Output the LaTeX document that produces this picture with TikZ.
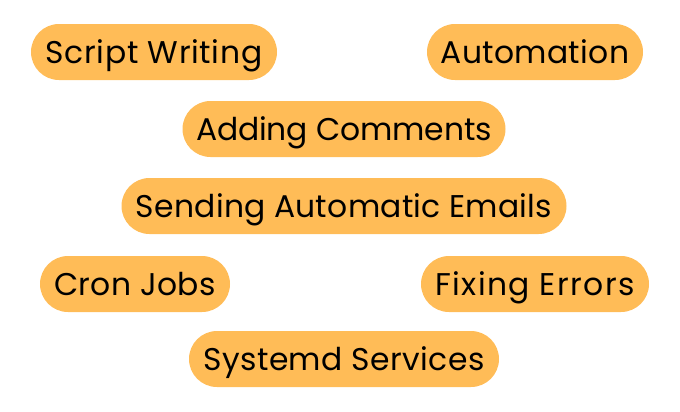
\documentclass[tikz,border=0pt]{standalone}
\usepackage{fontspec}
\setmainfont{Poppins}
\usetikzlibrary{shapes.misc}
\definecolor{pillorange}{HTML}{FFBC57}
\tikzset{
    topic/.style={fill=pillorange, rounded rectangle, minimum height=56*0.0375cm, inner xsep=0pt, inner ysep=0pt, text height=23.5pt, text depth=0pt, font=\fontsize{33.5}{33.5}\selectfont\addfontfeature{LetterSpace=#1}, text=black, anchor=center}
}
\begin{document}
\begin{tikzpicture}[x=0.0375cm, y=-0.0375cm]
                % Frame
                \useasboundingbox (0,0) rectangle (680,411);
                % Top row
                \node [topic=2.2, minimum width=246*0.0375cm] (script) at (154,52) {Script Writing};
                \node [topic=1.0, minimum width=216*0.0375cm] (automation) at (535,52) {Automation};
                % Middle rows
                \node [topic=-0.4, minimum width=323*0.0375cm] (comments) at (344,129) {Adding Comments};
                \node [topic=0.8, minimum width=445*0.0375cm] (emails) at (344,206) {Sending Automatic Emails};
                % Lower rows
                \node [topic=1.2, minimum width=190*0.0375cm] (cron) at (135,284) {Cron Jobs};
                \node [topic=4.7, minimum width=228*0.0375cm] (errors) at (535,284) {Fixing Errors};
                \node [topic=1.3, minimum width=310*0.0375cm] (systemd) at (344,359) {Systemd Services};
            \end{tikzpicture}
\end{document}
